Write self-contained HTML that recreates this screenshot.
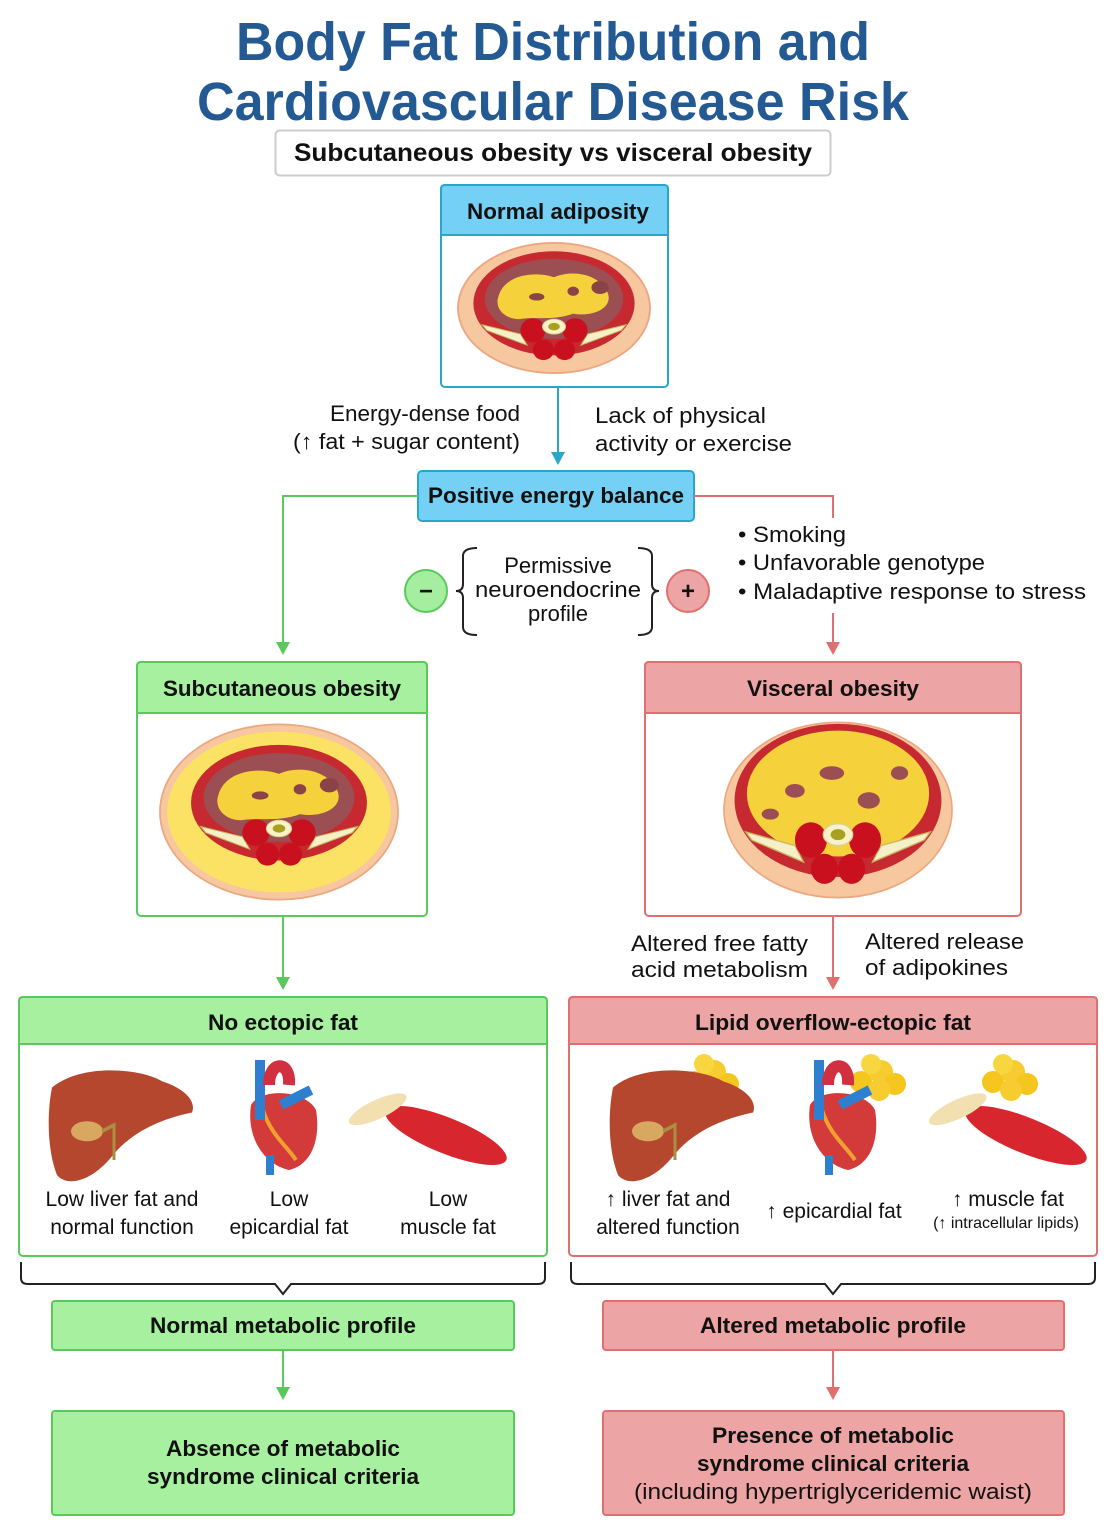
<!DOCTYPE html>
<html><head><meta charset="utf-8"><style>
html,body{margin:0;padding:0;background:#fff}
svg{display:block}
text{font-family:"Liberation Sans",sans-serif;fill:#111}
.b{font-weight:bold}
</style></head><body>
<svg width="1116" height="1536" viewBox="0 0 1116 1536" xmlns="http://www.w3.org/2000/svg">
<defs>
<g id="inner">
<ellipse cx="0" cy="-5" rx="84" ry="56" fill="#c62a30"/>
<ellipse cx="0" cy="-10" rx="72" ry="43" fill="#9b4f52"/>
<path d="M-58,-12 C-52,-36 -20,-40 0,-33 C20,-42 48,-36 56,-16 C62,0 40,10 20,6 C0,14 -22,9 -36,12 C-52,12 -62,0 -58,-12Z" fill="#f5d23c"/>
<ellipse cx="-18" cy="-12" rx="8" ry="4" fill="#8a4448"/>
<ellipse cx="20" cy="-18" rx="6" ry="5" fill="#8a4448"/>
<ellipse cx="48" cy="-22" rx="9" ry="7" fill="#8a4448"/>
<path d="M-75,18 L-35,28 L-28,40 L-70,24Z" fill="#f6f0c8" stroke="#c8b860" stroke-width="1"/>
<path d="M75,18 L35,28 L28,40 L70,24Z" fill="#f6f0c8" stroke="#c8b860" stroke-width="1"/>
<circle cx="-22" cy="24" r="13" fill="#c8101e"/>
<circle cx="22" cy="24" r="13" fill="#c8101e"/>
<circle cx="-11" cy="45" r="11" fill="#c8101e"/>
<circle cx="11" cy="45" r="11" fill="#c8101e"/>
<ellipse cx="0" cy="20" rx="12" ry="8" fill="#f8f2c8" stroke="#d8d090"/>
<ellipse cx="0" cy="20" rx="6" ry="4" fill="#a8a020"/>
</g>
<g id="innerV">
<ellipse cx="0" cy="-5" rx="84" ry="56" fill="#c62a30"/>
<ellipse cx="0" cy="-10" rx="74" ry="46" fill="#f5d23c"/>
<ellipse cx="-35" cy="-12" rx="8" ry="5" fill="#9b4f52"/>
<ellipse cx="-5" cy="-25" rx="10" ry="5" fill="#9b4f52"/>
<ellipse cx="25" cy="-5" rx="9" ry="6" fill="#9b4f52"/>
<ellipse cx="50" cy="-25" rx="7" ry="5" fill="#9b4f52"/>
<ellipse cx="-55" cy="5" rx="7" ry="4" fill="#9b4f52"/>
<path d="M-75,18 L-35,28 L-28,40 L-70,24Z" fill="#f6f0c8" stroke="#c8b860" stroke-width="1"/>
<path d="M75,18 L35,28 L28,40 L70,24Z" fill="#f6f0c8" stroke="#c8b860" stroke-width="1"/>
<circle cx="-22" cy="24" r="13" fill="#c8101e"/>
<circle cx="22" cy="24" r="13" fill="#c8101e"/>
<circle cx="-11" cy="45" r="11" fill="#c8101e"/>
<circle cx="11" cy="45" r="11" fill="#c8101e"/>
<ellipse cx="0" cy="20" rx="12" ry="8" fill="#f8f2c8" stroke="#d8d090"/>
<ellipse cx="0" cy="20" rx="6" ry="4" fill="#a8a020"/>
</g>
<g id="liver">
<path d="M-70,-30 C-40,-50 20,-45 40,-35 C60,-30 75,-20 70,-10 C40,-5 10,5 -10,25 C-30,45 -55,50 -65,40 C-75,20 -75,-10 -70,-30Z" fill="#b5472f"/>
<ellipse cx="-35" cy="5" rx="16" ry="8" fill="#d8a860"/>
<path d="M-20,5 L-8,0 L-8,28" stroke="#a89040" stroke-width="3" fill="none"/>
</g>
<g id="heart">
<path d="M-30,-10 C-35,25 -15,50 8,55 C30,50 40,25 35,-5 C25,-25 -20,-28 -30,-10Z" fill="#d33a3a"/>
<path d="M-18,-5 C-10,20 5,30 15,45" stroke="#f0a030" stroke-width="4" fill="none"/>
<rect x="-26" y="-55" width="10" height="60" fill="#2f7fd0"/>
<path d="M-12,-30 C-12,-55 10,-55 8,-30" stroke="#d03040" stroke-width="12" fill="none"/>
<path d="M0,-10 L30,-25" stroke="#2f7fd0" stroke-width="10"/>
<rect x="-15" y="40" width="8" height="20" fill="#2f7fd0"/>
</g>
<g id="muscle">
<ellipse cx="20" cy="10" rx="62" ry="17" fill="#d8262e" transform="rotate(22 20 10)"/>
<ellipse cx="-45" cy="-15" rx="30" ry="9" fill="#f3e0b0" transform="rotate(-25 -45 -15)"/>
</g>
<g id="fat">
<circle cx="-12" cy="4" r="11" fill="#f4c61e"/>
<circle cx="8" cy="-6" r="12" fill="#f6cc30"/>
<circle cx="22" cy="6" r="11" fill="#f4c61e"/>
<circle cx="-2" cy="-14" r="10" fill="#f8d640"/>
<circle cx="6" cy="12" r="11" fill="#f6cc30"/>
</g>
</defs>

<text x="553" y="60" text-anchor="middle" class="b" font-size="54" style="fill:#245a93" textLength="634" lengthAdjust="spacingAndGlyphs">Body Fat Distribution and</text>
<text x="553" y="120" text-anchor="middle" class="b" font-size="54" style="fill:#245a93" textLength="712" lengthAdjust="spacingAndGlyphs">Cardiovascular Disease Risk</text>
<rect x="275.5" y="130.5" width="555" height="45" rx="4" fill="#fff" stroke="#ccc" stroke-width="2"/>
<text x="553" y="161" text-anchor="middle" class="b" font-size="25" textLength="518" lengthAdjust="spacingAndGlyphs">Subcutaneous obesity vs visceral obesity</text>

<rect x="441" y="185" width="227" height="202" rx="4" fill="#fff" stroke="#2aa7c7" stroke-width="2"/>
<path d="M441,235 L441,189 Q441,185 445,185 L664,185 Q668,185 668,189 L668,235Z" fill="#74d0f5" stroke="#2aa7c7" stroke-width="2"/>
<text x="558" y="219" text-anchor="middle" class="b" font-size="22" textLength="182" lengthAdjust="spacingAndGlyphs">Normal adiposity</text>
<g transform="translate(554,308) scale(0.96,0.93)">
<ellipse cx="0" cy="0" rx="100" ry="70" fill="#f7c7a0" stroke="#eba880" stroke-width="2"/>
<use href="#inner"/>
</g>

<line x1="558" y1="387" x2="558" y2="455" stroke="#2aa7c7" stroke-width="2"/>
<path d="M551,452 L558,465 L565,452Z" fill="#2aa7c7"/>
<text x="520" y="421" text-anchor="end" font-size="22" textLength="190" lengthAdjust="spacingAndGlyphs">Energy-dense food</text>
<text x="520" y="449" text-anchor="end" font-size="22" textLength="227" lengthAdjust="spacingAndGlyphs">(↑ fat + sugar content)</text>
<text x="595" y="423" font-size="22" textLength="171" lengthAdjust="spacingAndGlyphs">Lack of physical</text>
<text x="595" y="451" font-size="22" textLength="197" lengthAdjust="spacingAndGlyphs">activity or exercise</text>

<rect x="418" y="471" width="276" height="50" rx="4" fill="#74d0f5" stroke="#2aa7c7" stroke-width="2"/>
<text x="556" y="503" text-anchor="middle" class="b" font-size="22" textLength="256" lengthAdjust="spacingAndGlyphs">Positive energy balance</text>

<polyline points="418,496 283,496 283,645" fill="none" stroke="#58c95a" stroke-width="2"/>
<path d="M276,642 L283,655 L290,642Z" fill="#58c95a"/>
<polyline points="694,496 833,496 833,518" fill="none" stroke="#e07070" stroke-width="2"/>
<line x1="833" y1="613" x2="833" y2="645" stroke="#e07070" stroke-width="2"/>
<path d="M826,642 L833,655 L840,642Z" fill="#e07070"/>
<text x="738" y="542" font-size="22" textLength="108" lengthAdjust="spacingAndGlyphs">• Smoking</text>
<text x="738" y="570" font-size="22" textLength="247" lengthAdjust="spacingAndGlyphs">• Unfavorable genotype</text>
<text x="738" y="599" font-size="22" textLength="348" lengthAdjust="spacingAndGlyphs">• Maladaptive response to stress</text>

<circle cx="426" cy="591" r="21" fill="#a6ee9f" stroke="#58c95a" stroke-width="2"/>
<text x="426" y="599" text-anchor="middle" class="b" font-size="24">−</text>
<circle cx="688" cy="591" r="21" fill="#eda4a4" stroke="#e07070" stroke-width="2"/>
<text x="688" y="599" text-anchor="middle" class="b" font-size="24">+</text>
<path d="M477,548 Q463,548 463,556 L463,584 Q463,591 456,591 Q463,591 463,598 L463,627 Q463,635 477,635" fill="none" stroke="#222" stroke-width="2"/>
<path d="M638,548 Q652,548 652,556 L652,584 Q652,591 659,591 Q652,591 652,598 L652,627 Q652,635 638,635" fill="none" stroke="#222" stroke-width="2"/>
<text x="558" y="573" text-anchor="middle" font-size="22">Permissive</text>
<text x="558" y="597" text-anchor="middle" font-size="22" textLength="166" lengthAdjust="spacingAndGlyphs">neuroendocrine</text>
<text x="558" y="621" text-anchor="middle" font-size="22">profile</text>

<rect x="137" y="662" width="290" height="254" rx="4" fill="#fff" stroke="#58c95a" stroke-width="2"/>
<path d="M137,713 L137,666 Q137,662 141,662 L423,662 Q427,662 427,666 L427,713Z" fill="#a6f0a0" stroke="#58c95a" stroke-width="2"/>
<text x="282" y="696" text-anchor="middle" class="b" font-size="22" textLength="238" lengthAdjust="spacingAndGlyphs">Subcutaneous obesity</text>
<g transform="translate(279,812) scale(1.19,1.2)">
<ellipse cx="0" cy="0" rx="100" ry="73" fill="#f7c7a0" stroke="#eba880" stroke-width="1.5"/>
<ellipse cx="0" cy="0" rx="94" ry="67" fill="#fbe264"/>
<g transform="scale(0.88,0.86) translate(0,-4)"><use href="#inner"/></g>
</g>

<rect x="645" y="662" width="376" height="254" rx="4" fill="#fff" stroke="#e07070" stroke-width="2"/>
<path d="M645,713 L645,666 Q645,662 649,662 L1017,662 Q1021,662 1021,666 L1021,713Z" fill="#eda4a4" stroke="#e07070" stroke-width="2"/>
<text x="833" y="696" text-anchor="middle" class="b" font-size="22" textLength="172" lengthAdjust="spacingAndGlyphs">Visceral obesity</text>
<g transform="translate(838,810) scale(1.14,1.2)">
<ellipse cx="0" cy="0" rx="100" ry="73" fill="#f7c7a0" stroke="#eba880" stroke-width="1.5"/>
<g transform="scale(1.08,1.14) translate(0,-2)"><use href="#innerV"/></g>
</g>

<line x1="283" y1="916" x2="283" y2="980" stroke="#58c95a" stroke-width="2"/>
<path d="M276,977 L283,990 L290,977Z" fill="#58c95a"/>
<line x1="833" y1="916" x2="833" y2="980" stroke="#e07070" stroke-width="2"/>
<path d="M826,977 L833,990 L840,977Z" fill="#e07070"/>
<text x="808" y="951" text-anchor="end" font-size="22" textLength="177" lengthAdjust="spacingAndGlyphs">Altered free fatty</text>
<text x="808" y="977" text-anchor="end" font-size="22" textLength="177" lengthAdjust="spacingAndGlyphs">acid metabolism</text>
<text x="865" y="949" font-size="22" textLength="159" lengthAdjust="spacingAndGlyphs">Altered release</text>
<text x="865" y="975" font-size="22" textLength="143" lengthAdjust="spacingAndGlyphs">of adipokines</text>

<rect x="19" y="997" width="528" height="259" rx="4" fill="#fff" stroke="#58c95a" stroke-width="2"/>
<path d="M19,1044 L19,1001 Q19,997 23,997 L543,997 Q547,997 547,1001 L547,1044Z" fill="#a6f0a0" stroke="#58c95a" stroke-width="2"/>
<text x="283" y="1030" text-anchor="middle" class="b" font-size="22" textLength="150" lengthAdjust="spacingAndGlyphs">No ectopic fat</text>
<use href="#liver" transform="translate(122,1125) scale(1,1.25)"/>
<use href="#heart" transform="translate(281,1115)"/>
<use href="#muscle" transform="translate(425,1125) scale(1.05)"/>
<text x="122" y="1206" text-anchor="middle" font-size="21">Low liver fat and</text>
<text x="122" y="1234" text-anchor="middle" font-size="21">normal function</text>
<text x="289" y="1206" text-anchor="middle" font-size="21">Low</text>
<text x="289" y="1234" text-anchor="middle" font-size="21">epicardial fat</text>
<text x="448" y="1206" text-anchor="middle" font-size="21">Low</text>
<text x="448" y="1234" text-anchor="middle" font-size="21">muscle fat</text>

<rect x="569" y="997" width="528" height="259" rx="4" fill="#fff" stroke="#e07070" stroke-width="2"/>
<path d="M569,1044 L569,1001 Q569,997 573,997 L1093,997 Q1097,997 1097,1001 L1097,1044Z" fill="#eda4a4" stroke="#e07070" stroke-width="2"/>
<text x="833" y="1030" text-anchor="middle" class="b" font-size="22" textLength="276" lengthAdjust="spacingAndGlyphs">Lipid overflow-ectopic fat</text>
<use href="#fat" transform="translate(706,1078)"/>
<use href="#liver" transform="translate(683,1125) scale(1,1.25)"/>
<use href="#fat" transform="translate(873,1078)"/>
<use href="#heart" transform="translate(840,1115)"/>
<use href="#fat" transform="translate(1005,1078)"/>
<use href="#muscle" transform="translate(1005,1125) scale(1.05)"/>
<text x="668" y="1206" text-anchor="middle" font-size="21">↑ liver fat and</text>
<text x="668" y="1234" text-anchor="middle" font-size="21">altered function</text>
<text x="834" y="1218" text-anchor="middle" font-size="21">↑ epicardial fat</text>
<text x="1008" y="1206" text-anchor="middle" font-size="21">↑ muscle fat</text>
<text x="1006" y="1228" text-anchor="middle" font-size="16">(↑ intracellular lipids)</text>

<path d="M21,1262 L21,1278 Q21,1284 28,1284 L275,1284 L283,1294 L291,1284 L538,1284 Q545,1284 545,1278 L545,1262" fill="none" stroke="#222" stroke-width="2"/>
<path d="M571,1262 L571,1278 Q571,1284 578,1284 L825,1284 L833,1294 L841,1284 L1088,1284 Q1095,1284 1095,1278 L1095,1262" fill="none" stroke="#222" stroke-width="2"/>

<rect x="52" y="1301" width="462" height="49" rx="3" fill="#a6f0a0" stroke="#58c95a" stroke-width="2"/>
<text x="283" y="1333" text-anchor="middle" class="b" font-size="22" textLength="266" lengthAdjust="spacingAndGlyphs">Normal metabolic profile</text>
<rect x="603" y="1301" width="461" height="49" rx="3" fill="#eda4a4" stroke="#e07070" stroke-width="2"/>
<text x="833" y="1333" text-anchor="middle" class="b" font-size="22" textLength="266" lengthAdjust="spacingAndGlyphs">Altered metabolic profile</text>

<line x1="283" y1="1350" x2="283" y2="1390" stroke="#58c95a" stroke-width="2"/>
<path d="M276,1387 L283,1400 L290,1387Z" fill="#58c95a"/>
<line x1="833" y1="1350" x2="833" y2="1390" stroke="#e07070" stroke-width="2"/>
<path d="M826,1387 L833,1400 L840,1387Z" fill="#e07070"/>

<rect x="52" y="1411" width="462" height="104" rx="3" fill="#a6f0a0" stroke="#58c95a" stroke-width="2"/>
<text x="283" y="1456" text-anchor="middle" class="b" font-size="22" textLength="234" lengthAdjust="spacingAndGlyphs">Absence of metabolic</text>
<text x="283" y="1484" text-anchor="middle" class="b" font-size="22" textLength="272" lengthAdjust="spacingAndGlyphs">syndrome clinical criteria</text>
<rect x="603" y="1411" width="461" height="104" rx="3" fill="#eda4a4" stroke="#e07070" stroke-width="2"/>
<text x="833" y="1443" text-anchor="middle" class="b" font-size="22" textLength="242" lengthAdjust="spacingAndGlyphs">Presence of metabolic</text>
<text x="833" y="1471" text-anchor="middle" class="b" font-size="22" textLength="272" lengthAdjust="spacingAndGlyphs">syndrome clinical criteria</text>
<text x="833" y="1499" text-anchor="middle" font-size="22" textLength="398" lengthAdjust="spacingAndGlyphs">(including hypertriglyceridemic waist)</text>
</svg>
</body></html>
